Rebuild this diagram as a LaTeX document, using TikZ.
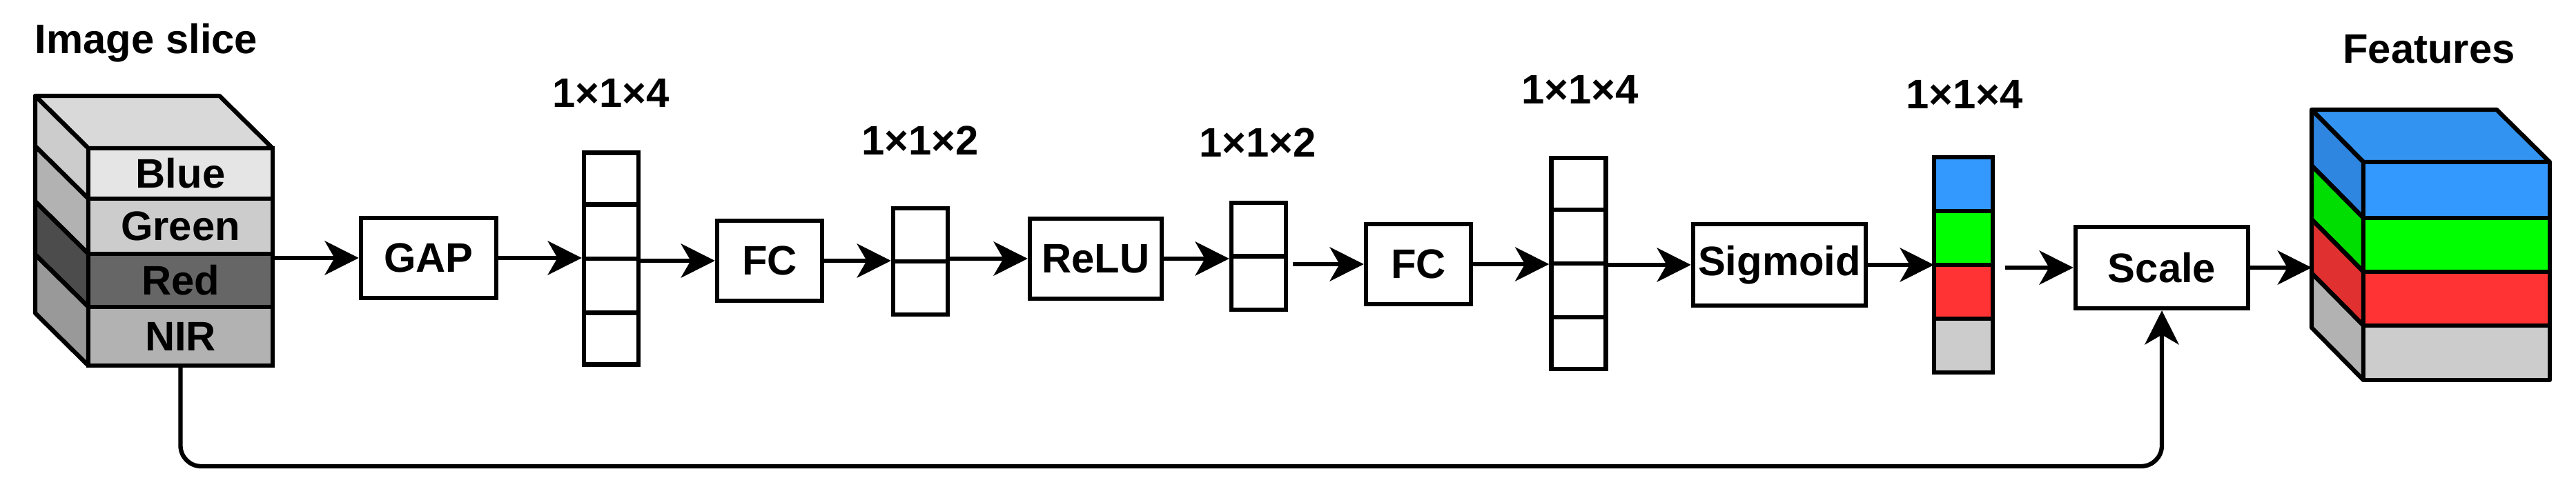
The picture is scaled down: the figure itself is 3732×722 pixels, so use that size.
\documentclass[tikz,border=0pt]{standalone}
\usepackage{fontspec}
\setmainfont{Liberation Sans}
\usetikzlibrary{arrows.meta,calc}
\begin{document}
\begin{tikzpicture}[x=0.01cm,y=-0.01cm,
  lw/.style={line width=1.8pt},
  arr/.style={lw,-{Stealth[length=14pt,width=14pt,inset=4pt]}},
  box/.style={draw,lw,fill=white,minimum height=1.16cm,inner sep=0pt,font=\fontsize{17}{19}\selectfont\bfseries},
  vec/.style={draw,lw,fill=white,minimum width=0.79cm,inner sep=0pt},
  lab/.style={font=\fontsize{17}{19}\selectfont\bfseries,inner sep=0pt},
  face/.style={draw,lw,line join=round},
  layer/.style={draw,lw,minimum width=2.67cm,inner sep=0pt,font=\fontsize{17}{19}\selectfont\bfseries}]
\useasboundingbox (0,0) rectangle (3732,722);

% ---- left cube
\node[lab] (t1) at (212,62) {Image slice};
\draw[face,fill=black!15] (128,215) -- (51,139) -- (318,139) -- (395,215) -- cycle;
\draw[face,fill=black!20] (128,215) -- (51,139) -- (51,212) -- (128,288) -- cycle;
\draw[face,fill=black!30] (128,288) -- (51,212) -- (51,292) -- (128,368) -- cycle;
\draw[face,fill=black!70] (128,368) -- (51,292) -- (51,369) -- (128,445) -- cycle;
\draw[face,fill=black!40] (128,445) -- (51,369) -- (51,454) -- (128,530) -- cycle;
\node[layer,fill=black!10,minimum height=0.73cm] (blue) at (261.5,251.5) {Blue};
\node[layer,fill=black!20,minimum height=0.80cm] (green) at (261.5,328) {Green};
\node[layer,fill=black!60,minimum height=0.77cm] (red) at (261.5,406.5) {Red};
\node[layer,fill=black!30,minimum height=0.85cm] (nir) at (261.5,487.5) {NIR};
\coordinate (cubeout) at (395,374);

% ---- pipeline
\node[box,minimum width=1.96cm] (gap) at (621,374) {GAP};
\node[vec,minimum height=3.07cm] (v1) at (885.5,375) {};
\foreach \i in {1,2,3} \draw[lw] ($(v1.north west)!\i/4!(v1.south west)$) -- ($(v1.north east)!\i/4!(v1.south east)$);
\node[lab] at (885,135) {1×1×4};
\node[box,minimum width=1.52cm] (fc1) at (1115,378) {FC};
\node[vec,minimum height=1.54cm] (v2) at (1333.5,379) {};
\draw[lw] (v2.west) -- (v2.east);
\node[lab] at (1333,204) {1×1×2};
\node[box,minimum width=1.91cm] (relu) at (1587.5,375) {ReLU};
\node[vec,minimum height=1.55cm] (v3) at (1823.5,371.5) {};
\draw[lw] (v3.west) -- (v3.east);
\node[lab] at (1822,207) {1×1×2};
\node[box,minimum width=1.52cm] (fc2) at (2055,383) {FC};
\node[vec,minimum height=3.06cm] (v4) at (2287,382) {};
\foreach \i in {1,2,3} \draw[lw] ($(v4.north west)!\i/4!(v4.south west)$) -- ($(v4.north east)!\i/4!(v4.south east)$);
\node[lab] at (2289,130) {1×1×4};
\node[box,minimum width=2.50cm,minimum height=1.18cm] (sig) at (2578,384) {Sigmoid};
% coloured vector
\node[vec,minimum height=3.06cm,fill=none] (v5) at (2844.5,384) {};
\fill[fill={rgb,255:red,51;green,153;blue,255}] ($(v5.north west)$) rectangle ($(v5.north east)!0.25!(v5.south east)$);
\fill[fill={rgb,255:red,0;green,255;blue,0}] ($(v5.north west)!0.25!(v5.south west)$) rectangle ($(v5.north east)!0.5!(v5.south east)$);
\fill[fill={rgb,255:red,255;green,51;blue,51}] ($(v5.north west)!0.5!(v5.south west)$) rectangle ($(v5.north east)!0.75!(v5.south east)$);
\fill[fill=black!20] ($(v5.north west)!0.75!(v5.south west)$) rectangle ($(v5.south east)$);
\draw[lw] (v5.north west) rectangle (v5.south east);
\foreach \i in {1,2,3} \draw[lw] ($(v5.north west)!\i/4!(v5.south west)$) -- ($(v5.north east)!\i/4!(v5.south east)$);
\node[lab] at (2846,137) {1×1×4};
\node[box,minimum width=2.50cm,minimum height=1.18cm] (scale) at (3132,388) {Scale};

% ---- right cube
\node[lab] (t2) at (3519,71) {Features};
\draw[face,fill={rgb,255:red,51;green,147;blue,240}] (3424,235) -- (3349,159) -- (3617,159) -- (3694,235) -- cycle;
\draw[face,fill={rgb,255:red,46;green,134;blue,224}] (3424,235) -- (3349,159) -- (3349,240) -- (3424,316) -- cycle;
\draw[face,fill={rgb,255:red,0;green,221;blue,0}] (3424,316) -- (3349,240) -- (3349,318) -- (3424,394) -- cycle;
\draw[face,fill={rgb,255:red,224;green,48;blue,48}] (3424,394) -- (3349,318) -- (3349,396) -- (3424,472) -- cycle;
\draw[face,fill=black!30] (3424,472) -- (3349,396) -- (3349,475) -- (3424,551) -- cycle;
\draw[face,fill={rgb,255:red,51;green,153;blue,255}] (3424,235) rectangle (3694,316);
\draw[face,fill={rgb,255:red,0;green,255;blue,0}] (3424,316) rectangle (3694,394);
\draw[face,fill={rgb,255:red,255;green,51;blue,51}] (3424,394) rectangle (3694,472);
\draw[face,fill=black!20] (3424,472) rectangle (3694,551);
\coordinate (featin) at (3349,388);

% ---- connectors
\draw[arr] (cubeout) -- (gap.west |- cubeout);
\draw[arr] (gap.east) -- (v1.west |- gap.east);
\draw[arr] (v1.east |- fc1.west) -- (fc1.west);
\draw[arr] (fc1.east) -- (v2.west |- fc1.east);
\draw[arr] (v2.east |- relu.west) -- (relu.west);
\draw[arr] (relu.east) -- (v3.west |- relu.east);
\draw[arr] ([xshift=0.07cm]v3.east |- fc2.west) -- (fc2.west);
\draw[arr] (fc2.east) -- (v4.west |- fc2.east);
\draw[arr] (v4.east |- sig.west) -- (sig.west);
\draw[arr] (sig.east) -- (v5.west |- sig.east);
\draw[arr] ([xshift=0.18cm]v5.east |- scale.west) -- (scale.west);
\draw[arr] (scale.east) -- (featin);
\draw[arr,rounded corners=0.3cm] (nir.south) -- (nir.south |- 0,676) -- (scale.south |- 0,676) -- (scale.south);
\end{tikzpicture}
\end{document}
